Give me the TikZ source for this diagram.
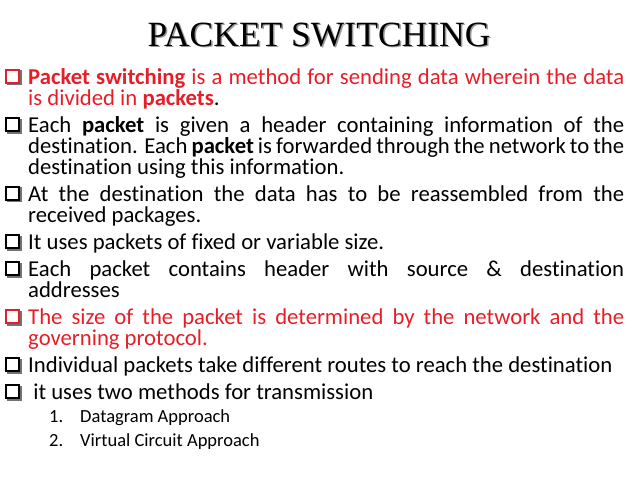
\documentclass[tikz,border=0pt]{standalone}
\usepackage{fontspec}
\setmainfont{Carlito}[RawFeature=-liga]
\newfontfamily\titlefont{Liberation Serif}
\definecolor{myred}{RGB}{230,30,40}
\newcommand\nohyph{\hyphenpenalty=10000 \exhyphenpenalty=10000 \relax}
\tikzset{
  para/.style={anchor=base west, inner sep=0pt, text width=596pt, align=justify, font=\fontsize{22.7}{21}\selectfont\nohyph},
  bul/.style={draw=#1, line width=2pt, minimum size=13pt, inner sep=0pt, fill=white},
  bulsh/.style={fill=black!55, minimum size=15pt, inner sep=0pt},
  ttl/.style={inner sep=0pt, anchor=base, font=\titlefont\fontsize{35.5}{36}\selectfont},
  sub/.style={anchor=base west, inner sep=0pt, font=\fontsize{18.5}{18}\selectfont}
}
\begin{document}
\begin{tikzpicture}[x=1pt,y=-1pt]
\useasboundingbox (0,0) rectangle (638,478);
\node[ttl, text=black!40] at (320.5,48) {PACKET SWITCHING};
\node (title) [ttl] at (319,46.5) {PACKET SWITCHING};
\def\bl#1#2#3{\node[bulsh] at (14,#1-6.5) {};\node[bul=#2] at (12.5,#1-8) {};}
\bl{84.5}{myred}{}
\node (p1) [para, text=myred] at (28,84.5) {\textbf{Packet switching} is a method for sending data wherein the data is divided in \textbf{packets}\textcolor{black}{.}};
\bl{133}{black}{}
\node (p2) [para] at (28,133) {Each \textbf{packet} is given a header containing information of the destination. Each \textbf{packet} is forwarded through the network to the destination using this information.};
\bl{201.5}{black}{}
\node (p3) [para] at (28,201.5) {At the destination the data has to be reassembled from the received packages.};
\bl{250}{black}{}
\node (p4) [para] at (28,250) {It uses packets of fixed or variable size.};
\bl{277}{black}{}
\node (p5) [para] at (28,277) {Each packet contains header with source \& destination\linebreak addresses};
\bl{325}{myred}{}
\node (p6) [para, text=myred] at (28,325) {The size of the packet is determined by the network and the governing protocol.};
\bl{373}{black}{}
\node (p7) [para] at (28,373) {Individual packets take different routes to reach the destination};
\bl{400}{black}{}
\node (p8) [para] at (28,400) {\ it uses two methods for transmission};
\node (s1) [sub] at (49,423) {1.\hspace{17pt}Datagram Approach};
\node (s2) [sub] at (49,447) {2.\hspace{17pt}Virtual Circuit Approach};
\end{tikzpicture}
\end{document}
